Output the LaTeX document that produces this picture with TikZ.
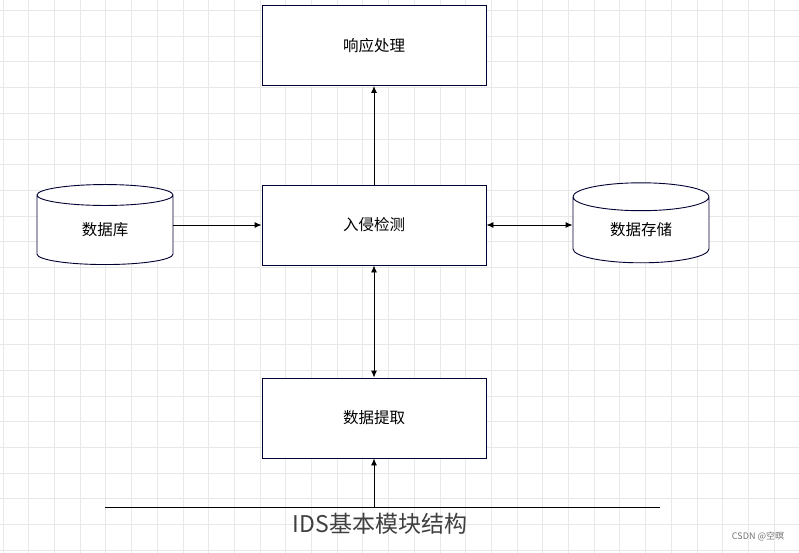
\documentclass[tikz,border=0pt]{standalone}
\usepackage{fontspec}
\setmainfont{Noto Sans CJK SC}
\usetikzlibrary{shapes.geometric,arrows.meta}
\begin{document}
\begin{tikzpicture}[x=1pt,y=-1pt,
 box/.style={draw=black!80!blue,line width=0.9pt,fill=white,minimum width=224pt,minimum height=80pt,inner sep=0,font=\fontsize{15.5}{18}\selectfont},
 cyl/.style={cylinder,shape border rotate=90,aspect=0.45,draw=black!80!blue,line width=0.9pt,fill=white,minimum width=136pt,minimum height=80pt,inner sep=0,font=\fontsize{15.5}{18}\selectfont},
 arr/.style={line width=0.9pt,-{Latex[length=7pt,width=6pt]}},
 darr/.style={line width=0.9pt,{Latex[length=7pt,width=6pt]}-{Latex[length=7pt,width=6pt]}}]
\useasboundingbox (0,0) rectangle (799,553);
\fill[white] (0,0) rectangle (799,553);
\foreach \i in {0,...,31} {\draw[black!9,line width=0.8pt] (3+25.7*\i,0) -- (3+25.7*\i,553);}
\foreach \i in {0,...,21} {\draw[black!9,line width=0.8pt] (0,10.5+25.7*\i) -- (799,10.5+25.7*\i);}
\node[box] (resp) at (374,45.5) {响应处理};
\node[box] (ids) at (374,225) {入侵检测};
\node[box] (ext) at (374,418) {数据提取};
\node[cyl] (db) at (105,230) {数据库};
\node[cyl] (st) at (641,230) {数据存储};
\coordinate (lineL) at (105,507);
\coordinate (lineR) at (660,507);
\coordinate (lineM) at (374,507);
\draw[line width=0.9pt] (lineL) -- (lineR);
\draw[arr] (ids) -- (resp);
\draw[arr] (ids.west -| db.east) -- (ids.west);
\draw[darr] (ids.east) -- (ids.east -| st.west);
\draw[darr] (ids) -- (ext);
\draw[arr] (lineM) -- (ext);
\node[font=\fontsize{23}{27}\selectfont,text=black!75] (title) at (380,524) {IDS基本模块结构};
\node[font=\fontsize{9}{11}\selectfont,text=black!55] (wm) at (758,536) {CSDN @空暝};
\end{tikzpicture}
\end{document}
